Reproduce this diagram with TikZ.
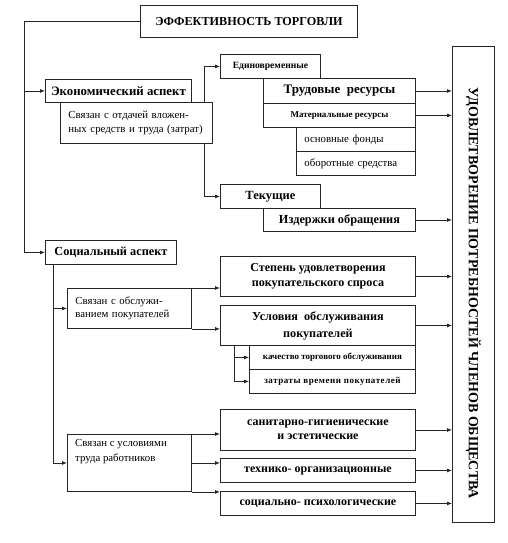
\documentclass[tikz,border=0pt]{standalone}
\usepackage{fontspec}
\setmainfont{Liberation Serif}
\usetikzlibrary{arrows.meta}
\newcommand\fsz[2]{\fontsize{#1}{#2}\selectfont}
\begin{document}
\begin{tikzpicture}[x=1pt,y=-1pt,
  box/.style={draw=black!85, line width=0.9pt, fill=white, inner sep=0pt, anchor=north west, align=center},
  wh/.style 2 args={minimum width=#1pt, minimum height=#2pt},
  lbox/.style={box, text width=#1pt, inner xsep=8pt, inner ysep=0pt, align=left},
  arr/.style={draw=black!85, line width=0.8pt, -{Latex[length=5pt,width=4pt]}},
  ln/.style={draw=black!85, line width=0.8pt},
  bigb/.style={font=\bfseries\fsz{12.2}{14}},
  medb/.style={font=\bfseries\fsz{12.3}{15}},
  smb/.style={font=\bfseries\fsz{9}{10}},
  reg/.style={font=\fsz{10.8}{13.5}}]
\useasboundingbox[fill=white] (0,0) rectangle (508,543);

% nodes
\node[box, wh={217}{32}, bigb] (eff) at (140,5) {ЭФФЕКТИВНОСТЬ ТОРГОВЛИ};
\node[box, wh={146}{23}, font=\bfseries\fsz{12.8}{15}] (econ) at (45,79) {Экономический аспект};
\node[lbox=136, minimum height=41pt, reg] (econsub) at (60,102) {Связан с отдачей вложен-\\ных средств и труда (затрат)};
\node[box, wh={100}{24}, font=\bfseries\fsz{9.6}{11}] (edin) at (220,54) {Единовременные};
\node[box, wh={152}{25}, font=\bfseries\fsz{13}{15}] (trud) at (263,78) {Трудовые\ \ ресурсы};
\node[box, wh={152}{24}, smb] (mat) at (263,103) {Материальные ресурсы};
\node[lbox=103, minimum height=24pt, reg] (osn) at (296,127) {основные фонды};
\node[lbox=103, minimum height=24pt, reg] (obr) at (296,151) {оборотные средства};
\node[box, wh={100}{24}, font=\bfseries\fsz{12.5}{15}] (tek) at (220,184) {Текущие};
\node[box, wh={152}{23}, medb] (izd) at (263,208) {Издержки обращения};

\node[box, wh={42}{476}] (right) at (452,46) {\rotatebox{-90}{\bfseries\fsz{14}{16}\hspace*{18pt}УДОВЛЕТВОРЕНИЕ ПОТРЕБНОСТЕЙ ЧЛЕНОВ ОБЩЕСТВА}};

\node[box, wh={131}{24}, medb] (soc) at (45,240) {Социальный аспект};
\node[lbox=108, minimum height=40pt, font=\fsz{10.8}{12.5}] (soc1) at (67,288) {Связан с обслужи-\\ванием покупателей};
\node[box, wh={124}{57}, label={[anchor=north west, align=left, inner sep=0pt, xshift=8pt, yshift=-5pt, font=\fsz{10.8}{15}]north west:Связан с условиями\\труда работников}] (soc2) at (67,434) {};

\node[box, wh={195}{40}, font=\bfseries\fsz{12.1}{15}] (step) at (220,256) {Степень удовлетворения\\покупательского спроса};
\node[box, wh={195}{40}, font=\bfseries\fsz{12.2}{17}] (usl) at (220,305) {Условия\ \ обслуживания\\покупателей};
\node[box, wh={166}{24}, smb] (kach) at (249,345) {качество торгового обслуживания};
\node[box, wh={166}{24}, font=\bfseries\fsz{9}{10}\addfontfeature{LetterSpace=6}] (zat) at (249,369) {затраты времени покупателей};
\node[box, wh={195}{41}, font=\bfseries\fsz{12}{14.5}] (san) at (220,409) {санитарно-гигиенические\\и эстетические};
\node[box, wh={195}{24}, font=\bfseries\fsz{12}{14}] (tech) at (220,458) {технико- организационные};
\node[box, wh={195}{24}, font=\bfseries\fsz{12}{14}] (socp) at (220,491) {социально- психологические};

% connectors
\coordinate (trunk) at (24,0);
\draw[ln] (eff.west) -| (trunk |- soc.west);
\draw[arr] (trunk |- econ.west) -- (econ.west);
\draw[arr] (trunk |- soc.west) -- (soc.west);

\coordinate (eb) at (204,0);
\draw[arr] (eb |- econsub.north) |- (edin.west);
\draw[arr] (eb |- econsub.south) |- (tek.west);

\foreach \n in {trud,mat,izd,step,usl,san,tech,socp}
  \draw[arr] (\n.east) -- (\n.east -| right.west);

\coordinate (st) at (53,0);
\draw[arr] (st |- soc.south) |- (soc2.west);
\draw[arr] (st |- soc1.west) -- (soc1.west);

\draw[arr] (soc1.north east) -- (soc1.north east -| step.west);
\draw[arr] (soc1.south east) -- (soc1.south east -| usl.west);
\draw[arr] (soc2.north east) -- (soc2.north east -| san.west);
\draw[arr] (soc2.east) -- (soc2.east -| tech.west);
\draw[arr] (soc2.south east) -- (soc2.south east -| socp.west);

\coordinate (ub) at (234,0);
\draw[arr] (ub |- usl.south) |- (kach.west);
\draw[arr] (ub |- usl.south) |- (zat.west);
\end{tikzpicture}
\end{document}
